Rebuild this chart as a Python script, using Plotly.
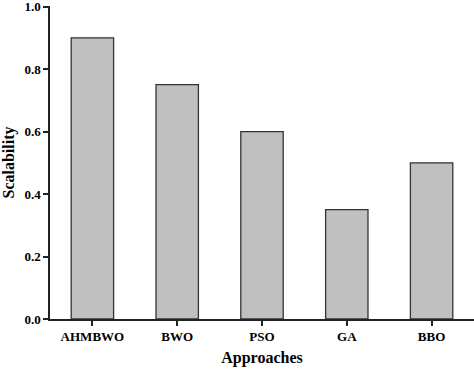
import plotly.graph_objects as go

categories = ["AHMBWO", "BWO", "PSO", "GA", "BBO"]
scalability = [0.9, 0.75, 0.6, 0.35, 0.5]
y_ticks = [0.0, 0.2, 0.4, 0.6, 0.8, 1.0]
y_tick_labels = ["0.0", "0.2", "0.4", "0.6", "0.8", "1.0"]

font_family = "Liberation Serif, Times New Roman, serif"

fig = go.Figure(go.Bar(
    x=categories,
    y=scalability,
    width=0.5,
    marker=dict(color="#c0c0c0", line=dict(color="#333333", width=1.3)),
))

fig.update_layout(
    width=474, height=369,
    margin=dict(l=50, r=0, t=6, b=50),
    plot_bgcolor="white", paper_bgcolor="white",
    showlegend=False,
    font=dict(family=font_family, size=13, color="black", weight="bold"),
)
fig.update_xaxes(
    range=[-0.5, 4.5], automargin=False,
    showline=True, linecolor="#222222", linewidth=1.5,
    ticks="outside", ticklen=5, tickwidth=1.5, tickcolor="#222222",
    showgrid=False, zeroline=False,
    tickfont=dict(family=font_family, size=13, weight="bold"),
    title=dict(text="Approaches", standoff=8,
               font=dict(family=font_family, size=16, weight="bold")),
)
fig.update_yaxes(
    range=[0, 1.002], automargin=False,
    tickvals=y_ticks, ticktext=y_tick_labels,
    ticklabeloverflow="allow",
    showline=True, linecolor="#222222", linewidth=1.5,
    ticks="outside", ticklen=5, tickwidth=1.5, tickcolor="#222222",
    showgrid=False, zeroline=False,
    tickfont=dict(family=font_family, size=13, weight="bold"),
    title=dict(text="Scalability", standoff=8,
               font=dict(family=font_family, size=16, weight="bold")),
)

fig.write_html("out.html", config={"displayModeBar": False},
               post_script="document.body.style.margin='0';")
